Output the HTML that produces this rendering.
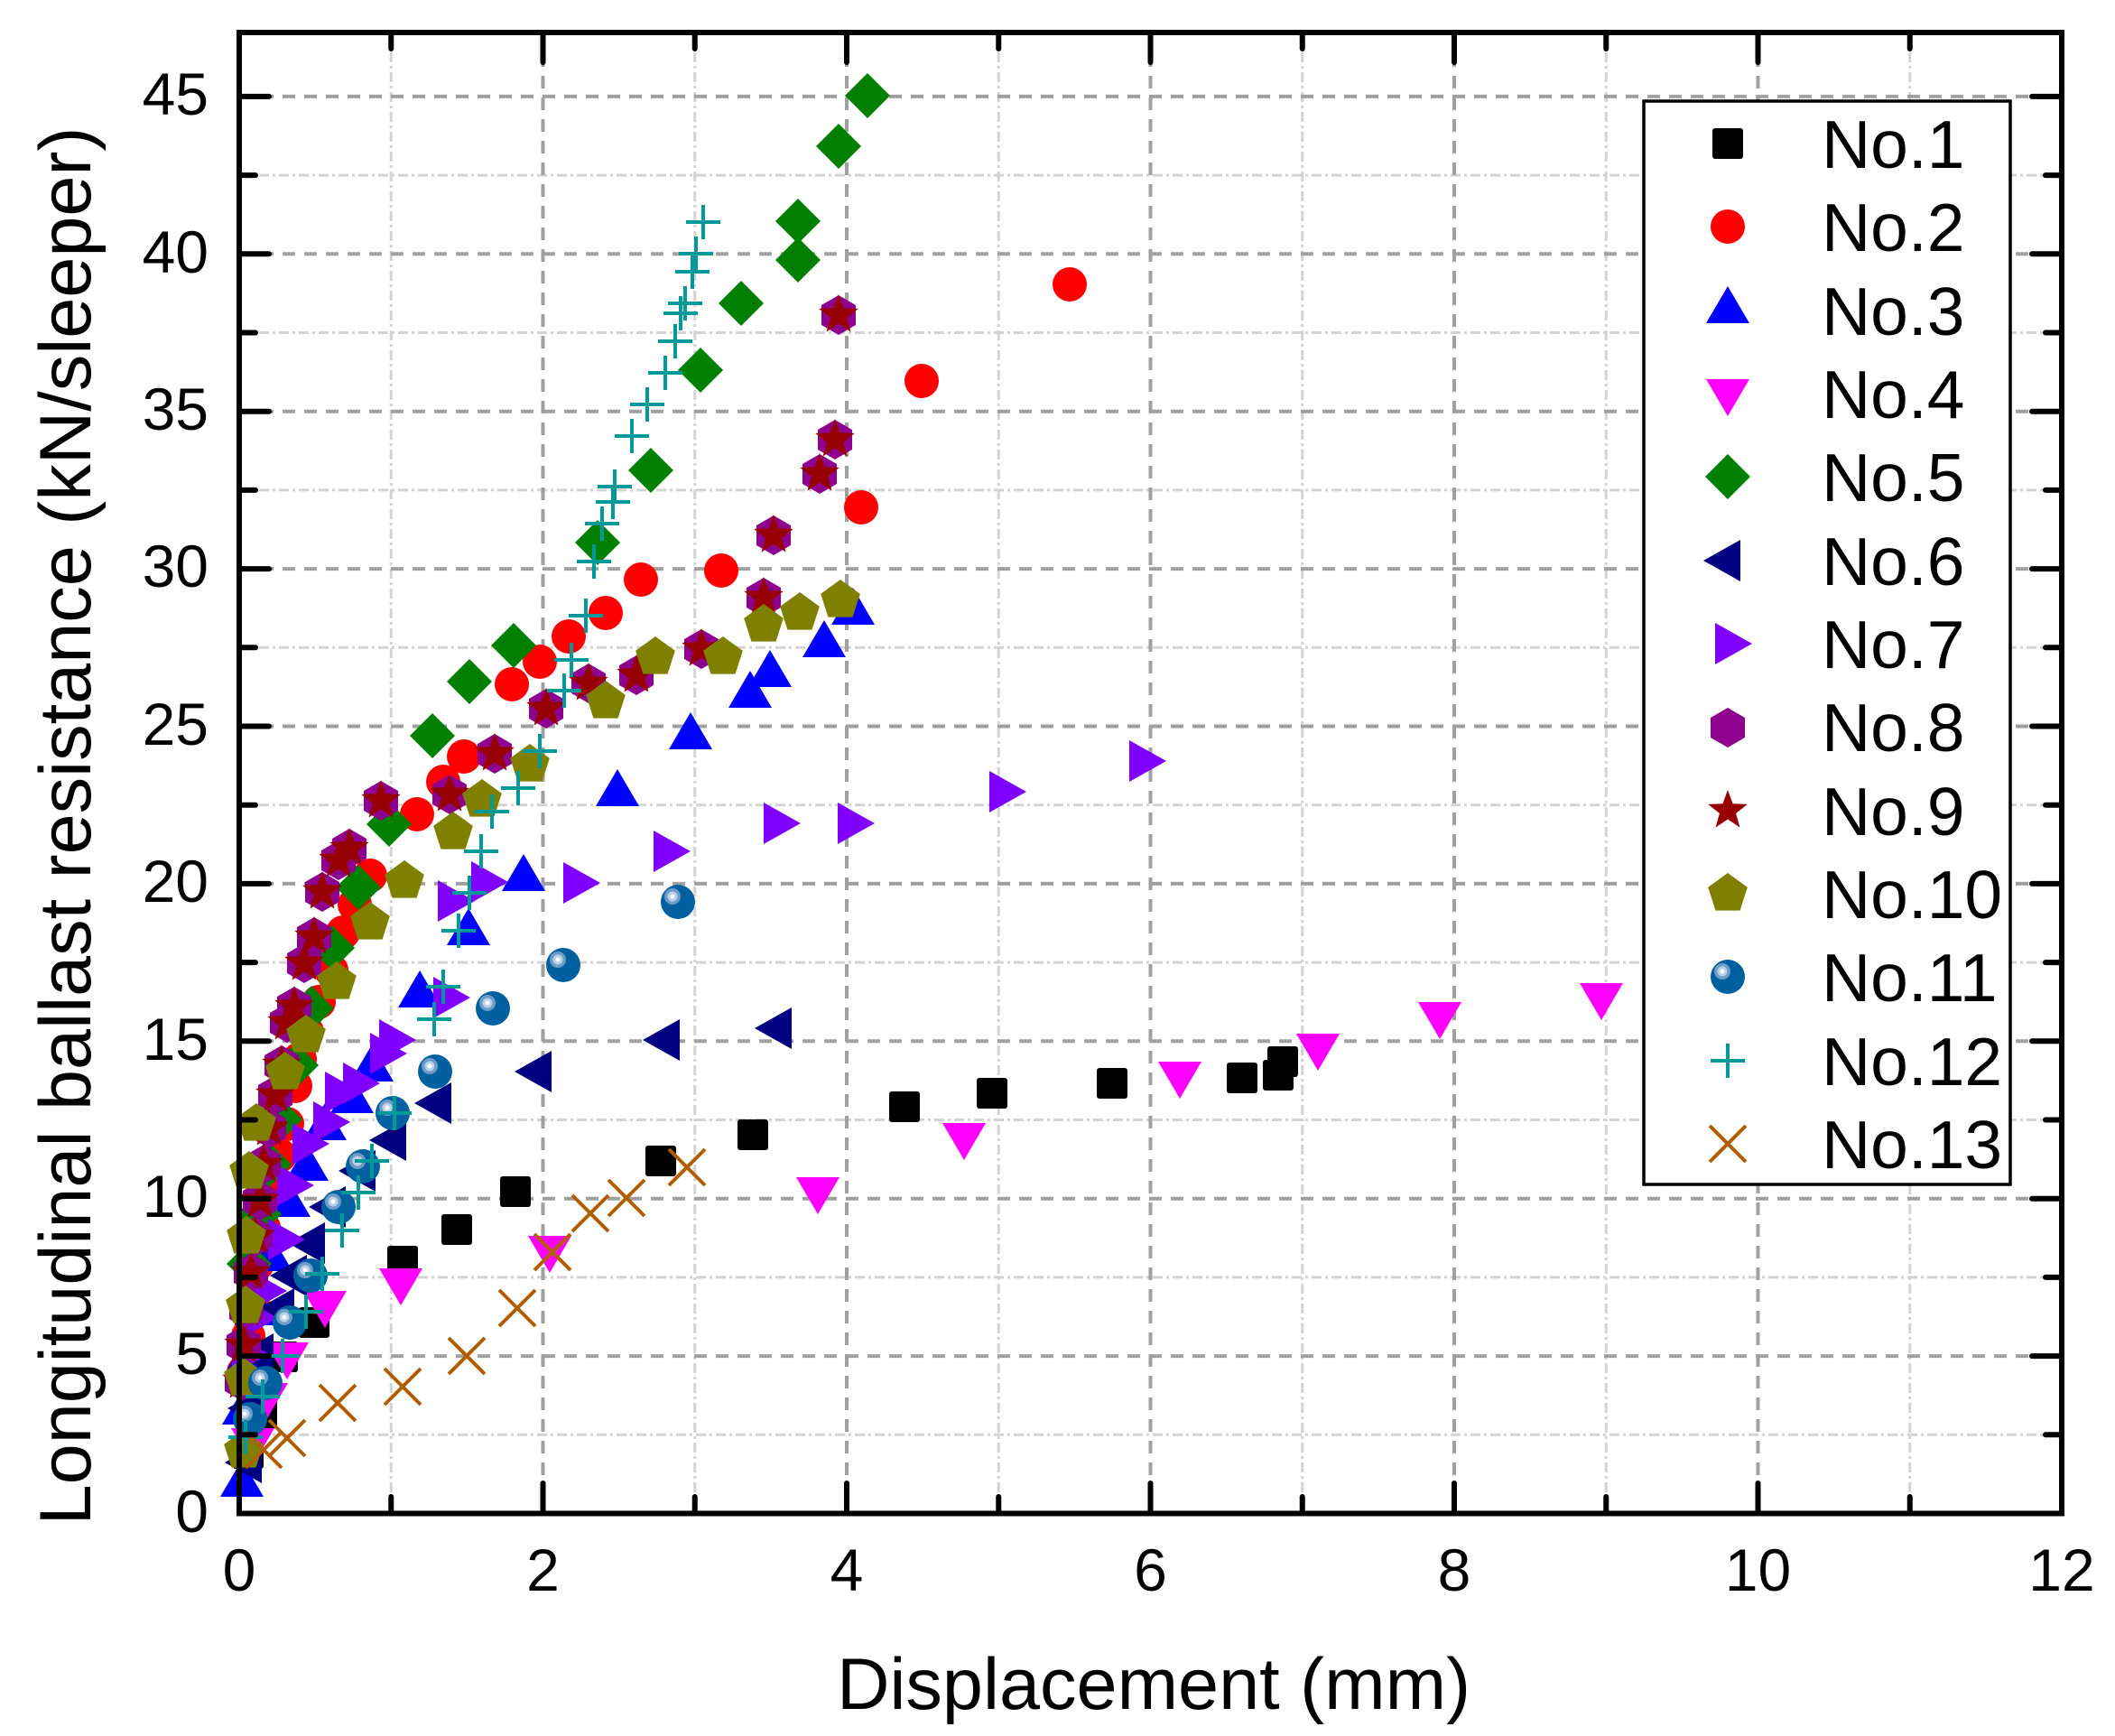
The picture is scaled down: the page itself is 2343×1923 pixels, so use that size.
<!DOCTYPE html>
<html><head><meta charset="utf-8"><style>
html,body{margin:0;padding:0;background:#fff}
svg{display:block}
text{font-family:"Liberation Sans",Arial,sans-serif;fill:#000}
</style></head><body>
<svg width="2343" height="1923" viewBox="0 0 2343 1923" xmlns="http://www.w3.org/2000/svg">
<defs>
<rect id="m1" x="-17" y="-17" width="34" height="34" rx="3" fill="#000"/>
<circle id="m2" r="19" fill="#f00"/>
<polygon id="m3" points="0,-23 24,18 -24,18" fill="#00f"/>
<polygon id="m4" points="0,23 24,-18 -24,-18" fill="#f0f"/>
<polygon id="m5" points="0,-25 25,0 0,25 -25,0" fill="#008000"/>
<polygon id="m6" points="-23,0 18,-23 18,23" fill="#000080"/>
<polygon id="m7" points="23,0 -18,-23 -18,23" fill="#8000ff"/>
<polygon id="m8" points="0,-22 19,-11 19,11 0,22 -19,11 -19,-11" fill="#8e008e"/>
<polygon id="m9" points="0,-23 5.58,-7.69 21.87,-7.11 9.04,2.94 13.52,18.61 0,9.5 -13.52,18.61 -9.04,2.94 -21.87,-7.11 -5.58,-7.69" fill="#960000"/>
<polygon id="m10" points="0,-23 21.87,-7.11 13.52,18.61 -13.52,18.61 -21.87,-7.11" fill="#808000"/>
<g id="m11"><circle r="19" fill="#0060a0"/><circle cx="-6" cy="-6" r="9" fill="#6f9cc6"/><circle cx="-6" cy="-6" r="5.5" fill="#b9d1e8"/><circle cx="-6" cy="-6" r="2.5" fill="#fff"/></g>
<path id="m12" d="M-19,0H19M0,-19V19" stroke="#009999" stroke-width="4" fill="none"/>
<path id="m13" d="M-20,-20L20,20M-20,20L20,-20" stroke="#b05f00" stroke-width="4" fill="none"/>
</defs>

<!-- minor grid -->
<g stroke="#d3d3d3" stroke-width="3" stroke-dasharray="11 4 3 4" fill="none">
<path d="M433.25,36V1676M769.75,36V1676M1106.25,36V1676M1442.75,36V1676M1779.25,36V1676M2115.75,36V1676"/>
<path d="M265,1589.3H2284M265,1414.9H2284M265,1240.5H2284M265,1066.1H2284M265,891.7H2284M265,717.3H2284M265,542.9H2284M265,368.5H2284M265,194.1H2284"/>
</g>
<!-- major grid -->
<g stroke="#a0a0a0" stroke-width="4" stroke-dasharray="14 10" fill="none">
<path d="M601.5,36V1676M938,36V1676M1274.5,36V1676M1611,36V1676M1947.5,36V1676"/>
<path d="M265,1502.1H2284M265,1327.7H2284M265,1153.3H2284M265,978.9H2284M265,804.5H2284M265,630.1H2284M265,455.7H2284M265,281.3H2284M265,106.9H2284"/>
</g>

<!-- series -->
<g>
<use href="#m1" x="1421" y="1176"/><use href="#m1" x="1416" y="1191"/><use href="#m1" x="1376" y="1194"/><use href="#m1" x="1232" y="1200"/><use href="#m1" x="1099" y="1211"/><use href="#m1" x="1002" y="1226"/><use href="#m1" x="834" y="1257"/><use href="#m1" x="732" y="1286"/><use href="#m1" x="571" y="1320"/><use href="#m1" x="506" y="1362"/><use href="#m1" x="446" y="1397"/><use href="#m1" x="348" y="1465"/><use href="#m1" x="313" y="1503"/><use href="#m1" x="290" y="1565"/><use href="#m1" x="275" y="1610"/>
</g>
<g>
<use href="#m2" x="1185" y="315"/><use href="#m2" x="1021" y="422"/><use href="#m2" x="954" y="562"/><use href="#m2" x="799" y="632"/><use href="#m2" x="710" y="642"/><use href="#m2" x="671" y="679"/><use href="#m2" x="630" y="705"/><use href="#m2" x="598" y="733"/><use href="#m2" x="567" y="758"/><use href="#m2" x="514" y="838"/><use href="#m2" x="491" y="866"/><use href="#m2" x="462" y="902"/><use href="#m2" x="410" y="970"/><use href="#m2" x="393" y="1002"/><use href="#m2" x="380" y="1033"/><use href="#m2" x="367" y="1075"/><use href="#m2" x="353" y="1110"/><use href="#m2" x="340" y="1143"/><use href="#m2" x="332" y="1173"/><use href="#m2" x="327" y="1203"/><use href="#m2" x="318" y="1245"/><use href="#m2" x="310" y="1280"/><use href="#m2" x="300" y="1320"/><use href="#m2" x="292" y="1360"/><use href="#m2" x="285" y="1400"/><use href="#m2" x="280" y="1440"/><use href="#m2" x="275" y="1480"/><use href="#m2" x="270" y="1520"/>
</g>
<g>
<use href="#m3" x="945" y="674"/><use href="#m3" x="913" y="710"/><use href="#m3" x="853" y="743"/><use href="#m3" x="831" y="766"/><use href="#m3" x="765" y="812"/><use href="#m3" x="684" y="875"/><use href="#m3" x="580" y="969"/><use href="#m3" x="519" y="1029"/><use href="#m3" x="465" y="1098"/><use href="#m3" x="412" y="1180"/><use href="#m3" x="390" y="1215"/><use href="#m3" x="360" y="1245"/><use href="#m3" x="340" y="1290"/><use href="#m3" x="320" y="1330"/><use href="#m3" x="300" y="1390"/><use href="#m3" x="285" y="1450"/><use href="#m3" x="275" y="1500"/><use href="#m3" x="270" y="1560"/><use href="#m3" x="268" y="1640"/>
</g>
<g>
<use href="#m4" x="1774" y="1107"/><use href="#m4" x="1595" y="1128"/><use href="#m4" x="1460" y="1163"/><use href="#m4" x="1307" y="1194"/><use href="#m4" x="1068" y="1262"/><use href="#m4" x="906" y="1322"/><use href="#m4" x="609" y="1387"/><use href="#m4" x="444" y="1423"/><use href="#m4" x="360" y="1448"/><use href="#m4" x="318" y="1505"/><use href="#m4" x="295" y="1550"/><use href="#m4" x="280" y="1600"/>
</g>
<g>
<use href="#m5" x="961" y="106"/><use href="#m5" x="929" y="162"/><use href="#m5" x="884" y="245"/><use href="#m5" x="884" y="288"/><use href="#m5" x="821" y="336"/><use href="#m5" x="776" y="410"/><use href="#m5" x="721" y="521"/><use href="#m5" x="662" y="601"/><use href="#m5" x="569" y="715"/><use href="#m5" x="520" y="755"/><use href="#m5" x="479" y="815"/><use href="#m5" x="431" y="913"/><use href="#m5" x="397" y="983"/><use href="#m5" x="368" y="1050"/><use href="#m5" x="345" y="1117"/><use href="#m5" x="328" y="1180"/><use href="#m5" x="310" y="1240"/><use href="#m5" x="298" y="1290"/><use href="#m5" x="287" y="1345"/><use href="#m5" x="276" y="1400"/>
</g>
<g>
<use href="#m6" x="859" y="1139"/><use href="#m6" x="735" y="1152"/><use href="#m6" x="593" y="1187"/><use href="#m6" x="482" y="1222"/><use href="#m6" x="432" y="1263"/><use href="#m6" x="398" y="1297"/><use href="#m6" x="365" y="1337"/><use href="#m6" x="342" y="1377"/><use href="#m6" x="322" y="1413"/><use href="#m6" x="308" y="1450"/><use href="#m6" x="285" y="1500"/><use href="#m6" x="275" y="1560"/><use href="#m6" x="272" y="1620"/>
</g>
<g>
<use href="#m7" x="1269" y="843"/><use href="#m7" x="1114" y="877"/><use href="#m7" x="946" y="912"/><use href="#m7" x="864" y="912"/><use href="#m7" x="742" y="943"/><use href="#m7" x="642" y="978"/><use href="#m7" x="540" y="977"/><use href="#m7" x="503" y="998"/><use href="#m7" x="498" y="1105"/><use href="#m7" x="438" y="1152"/><use href="#m7" x="428" y="1167"/><use href="#m7" x="398" y="1200"/><use href="#m7" x="378" y="1210"/><use href="#m7" x="365" y="1243"/><use href="#m7" x="342" y="1267"/><use href="#m7" x="325" y="1313"/><use href="#m7" x="315" y="1373"/><use href="#m7" x="295" y="1430"/><use href="#m7" x="285" y="1460"/><use href="#m7" x="275" y="1500"/>
</g>
<g>
<use href="#m8" x="929" y="349"/><use href="#m8" x="925" y="487"/><use href="#m8" x="908" y="525"/><use href="#m8" x="857" y="593"/><use href="#m8" x="846" y="662"/><use href="#m8" x="777" y="719"/><use href="#m8" x="705" y="748"/><use href="#m8" x="652" y="757"/><use href="#m8" x="605" y="785"/><use href="#m8" x="548" y="835"/><use href="#m8" x="498" y="880"/><use href="#m8" x="422" y="887"/><use href="#m8" x="387" y="940"/><use href="#m8" x="375" y="953"/><use href="#m8" x="357" y="988"/><use href="#m8" x="348" y="1038"/><use href="#m8" x="337" y="1067"/><use href="#m8" x="326" y="1115"/><use href="#m8" x="318" y="1133"/><use href="#m8" x="312" y="1180"/><use href="#m8" x="305" y="1213"/><use href="#m8" x="298" y="1250"/><use href="#m8" x="292" y="1290"/><use href="#m8" x="288" y="1330"/><use href="#m8" x="283" y="1370"/><use href="#m8" x="278" y="1410"/><use href="#m8" x="273" y="1450"/><use href="#m8" x="270" y="1490"/><use href="#m8" x="268" y="1530"/>
</g>
<g>
<use href="#m9" x="929" y="349"/><use href="#m9" x="925" y="487"/><use href="#m9" x="908" y="525"/><use href="#m9" x="857" y="593"/><use href="#m9" x="846" y="662"/><use href="#m9" x="777" y="719"/><use href="#m9" x="705" y="748"/><use href="#m9" x="652" y="757"/><use href="#m9" x="605" y="785"/><use href="#m9" x="548" y="835"/><use href="#m9" x="498" y="880"/><use href="#m9" x="422" y="887"/><use href="#m9" x="387" y="940"/><use href="#m9" x="375" y="953"/><use href="#m9" x="357" y="988"/><use href="#m9" x="348" y="1038"/><use href="#m9" x="337" y="1067"/><use href="#m9" x="326" y="1115"/><use href="#m9" x="318" y="1133"/><use href="#m9" x="312" y="1180"/><use href="#m9" x="305" y="1213"/><use href="#m9" x="298" y="1250"/><use href="#m9" x="292" y="1290"/><use href="#m9" x="288" y="1330"/><use href="#m9" x="283" y="1370"/><use href="#m9" x="278" y="1410"/><use href="#m9" x="273" y="1450"/><use href="#m9" x="270" y="1490"/><use href="#m9" x="268" y="1530"/>
</g>
<g>
<use href="#m10" x="931" y="665"/><use href="#m10" x="886" y="679"/><use href="#m10" x="846" y="692"/><use href="#m10" x="801" y="728"/><use href="#m10" x="726" y="728"/><use href="#m10" x="671" y="777"/><use href="#m10" x="587" y="847"/><use href="#m10" x="534" y="886"/><use href="#m10" x="502" y="922"/><use href="#m10" x="448" y="976"/><use href="#m10" x="410" y="1022"/><use href="#m10" x="373" y="1088"/><use href="#m10" x="339" y="1147"/><use href="#m10" x="316" y="1188"/><use href="#m10" x="284" y="1245"/><use href="#m10" x="276" y="1298"/><use href="#m10" x="273" y="1370"/><use href="#m10" x="272" y="1447"/><use href="#m10" x="270" y="1527"/><use href="#m10" x="270" y="1607"/>
</g>
<g>
<use href="#m11" x="751" y="999"/><use href="#m11" x="624" y="1069"/><use href="#m11" x="546" y="1117"/><use href="#m11" x="482" y="1187"/><use href="#m11" x="435" y="1233"/><use href="#m11" x="402" y="1292"/><use href="#m11" x="375" y="1337"/><use href="#m11" x="344" y="1413"/><use href="#m11" x="321" y="1465"/><use href="#m11" x="294" y="1532"/><use href="#m11" x="277" y="1572"/>
</g>
<g>
<use href="#m12" x="779" y="246"/><use href="#m12" x="771" y="281"/><use href="#m12" x="767" y="301"/><use href="#m12" x="759" y="336"/><use href="#m12" x="754" y="347"/><use href="#m12" x="748" y="378"/><use href="#m12" x="737" y="413"/><use href="#m12" x="717" y="448"/><use href="#m12" x="700" y="483"/><use href="#m12" x="681" y="539"/><use href="#m12" x="679" y="556"/><use href="#m12" x="667" y="580"/><use href="#m12" x="658" y="622"/><use href="#m12" x="649" y="682"/><use href="#m12" x="633" y="731"/><use href="#m12" x="625" y="765"/><use href="#m12" x="598" y="832"/><use href="#m12" x="574" y="873"/><use href="#m12" x="545" y="899"/><use href="#m12" x="533" y="943"/><use href="#m12" x="520" y="989"/><use href="#m12" x="508" y="1031"/><use href="#m12" x="491" y="1093"/><use href="#m12" x="481" y="1129"/><use href="#m12" x="437" y="1233"/><use href="#m12" x="412" y="1286"/><use href="#m12" x="397" y="1321"/><use href="#m12" x="379" y="1363"/><use href="#m12" x="357" y="1411"/><use href="#m12" x="339" y="1453"/><use href="#m12" x="313" y="1502"/><use href="#m12" x="291" y="1547"/><use href="#m12" x="272" y="1592"/>
</g>
<g>
<use href="#m13" x="761" y="1293"/><use href="#m13" x="694" y="1327"/><use href="#m13" x="654" y="1344"/><use href="#m13" x="612" y="1387"/><use href="#m13" x="573" y="1449"/><use href="#m13" x="517" y="1502"/><use href="#m13" x="446" y="1536"/><use href="#m13" x="374" y="1554"/><use href="#m13" x="318" y="1593"/><use href="#m13" x="292" y="1606"/>
</g>

<!-- ticks -->
<g stroke="#000" stroke-width="6" stroke-linecap="round" fill="none">
<path d="M601.5,1676V1643M938,1676V1643M1274.5,1676V1643M1611,1676V1643M1947.5,1676V1643"/>
<path d="M433.25,1676V1658M769.75,1676V1658M1106.25,1676V1658M1442.75,1676V1658M1779.25,1676V1658M2115.75,1676V1658"/>
<path d="M601.5,36V69M938,36V69M1274.5,36V69M1611,36V69M1947.5,36V69"/>
<path d="M433.25,36V54M769.75,36V54M1106.25,36V54M1442.75,36V54M1779.25,36V54M2115.75,36V54"/>
<path d="M265,1502.1H298M265,1327.7H298M265,1153.3H298M265,978.9H298M265,804.5H298M265,630.1H298M265,455.7H298M265,281.3H298M265,106.9H298"/>
<path d="M265,1589.3H283M265,1414.9H283M265,1240.5H283M265,1066.1H283M265,891.7H283M265,717.3H283M265,542.9H283M265,368.5H283M265,194.1H283"/>
<path d="M2284,1502.1H2251M2284,1327.7H2251M2284,1153.3H2251M2284,978.9H2251M2284,804.5H2251M2284,630.1H2251M2284,455.7H2251M2284,281.3H2251M2284,106.9H2251"/>
<path d="M2284,1589.3H2266M2284,1414.9H2266M2284,1240.5H2266M2284,1066.1H2266M2284,891.7H2266M2284,717.3H2266M2284,542.9H2266M2284,368.5H2266M2284,194.1H2266"/>
</g>
<!-- frame -->
<rect x="265" y="36" width="2019" height="1640.5" fill="none" stroke="#000" stroke-width="6"/>

<!-- legend -->
<rect x="1821" y="112" width="406" height="1200" fill="#fff" stroke="#000" stroke-width="3.5"/>
<use href="#m1" x="1914" y="159"/>
<use href="#m2" x="1914" y="251"/>
<use href="#m3" x="1914" y="340"/>
<use href="#m4" x="1914" y="438"/>
<use href="#m5" x="1914" y="528"/>
<use href="#m6" x="1910" y="621"/>
<use href="#m7" x="1918" y="713"/>
<use href="#m8" x="1914" y="806"/>
<use href="#m9" x="1914" y="898"/>
<use href="#m10" x="1914" y="990"/>
<use href="#m11" x="1914" y="1082"/>
<use href="#m12" x="1914" y="1175"/>
<use href="#m13" x="1914" y="1267"/>
<g font-size="75">
<text x="2018" y="186">No.1</text>
<text x="2018" y="278">No.2</text>
<text x="2018" y="371">No.3</text>
<text x="2018" y="463">No.4</text>
<text x="2018" y="555">No.5</text>
<text x="2018" y="648">No.6</text>
<text x="2018" y="740">No.7</text>
<text x="2018" y="832">No.8</text>
<text x="2018" y="925">No.9</text>
<text x="2018" y="1017">No.10</text>
<text x="2018" y="1109">No.11</text>
<text x="2018" y="1202">No.12</text>
<text x="2018" y="1294">No.13</text>
</g>

<!-- tick labels -->
<g font-size="66" text-anchor="end">
<text x="231" y="1697">0</text>
<text x="231" y="1522">5</text>
<text x="231" y="1348">10</text>
<text x="231" y="1174">15</text>
<text x="231" y="999">20</text>
<text x="231" y="825">25</text>
<text x="231" y="650">30</text>
<text x="231" y="476">35</text>
<text x="231" y="302">40</text>
<text x="231" y="127">45</text>
</g>
<g font-size="66" text-anchor="middle">
<text x="265" y="1762">0</text>
<text x="601.5" y="1762">2</text>
<text x="938" y="1762">4</text>
<text x="1274.5" y="1762">6</text>
<text x="1611" y="1762">8</text>
<text x="1947.5" y="1762">10</text>
<text x="2284" y="1762">12</text>
</g>

<!-- axis titles -->
<text x="1278" y="1893" font-size="81" text-anchor="middle">Displacement (mm)</text>
<text transform="translate(100,915) rotate(-90)" font-size="81" text-anchor="middle">Longitudinal ballast resistance (kN/sleeper)</text>
</svg>
</body></html>
